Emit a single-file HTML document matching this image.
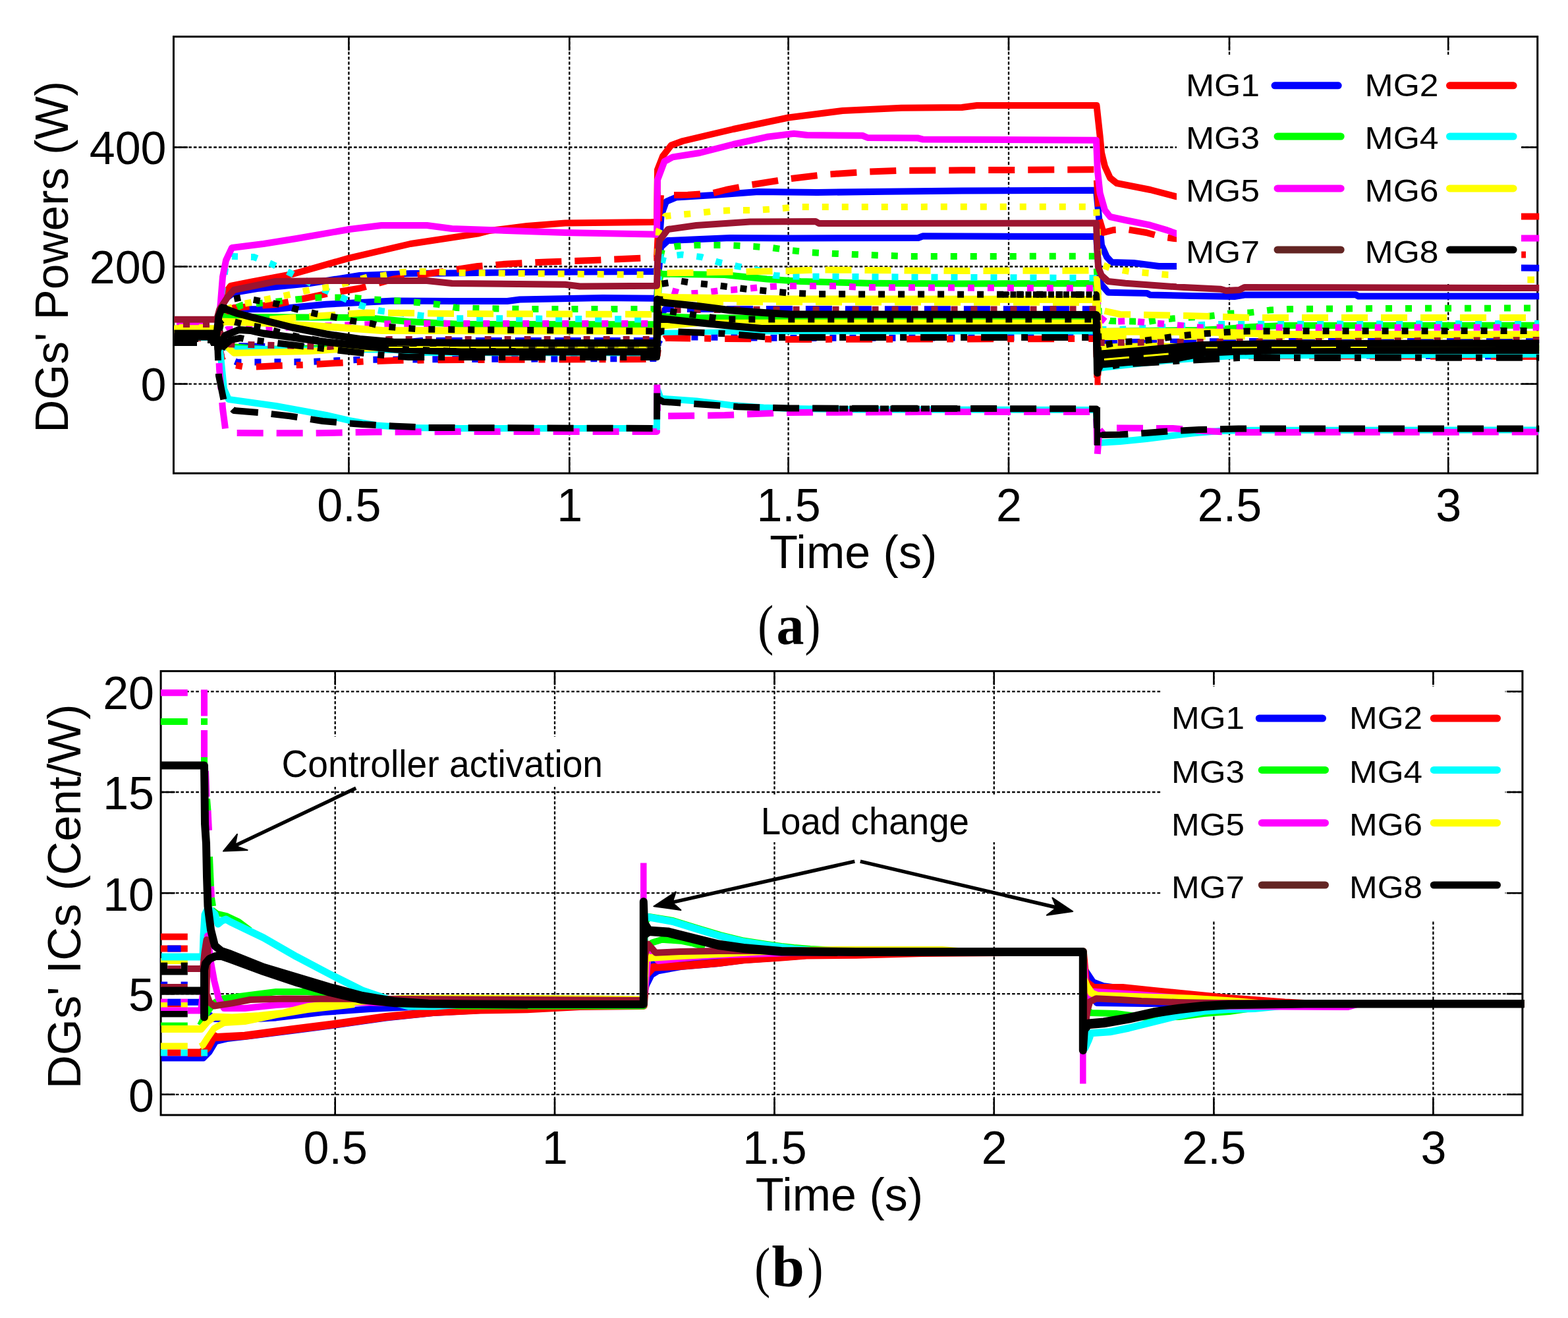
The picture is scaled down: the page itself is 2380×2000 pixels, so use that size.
<!DOCTYPE html>
<html lang="en"><head><meta charset="utf-8"><title>DGs' Powers and ICs</title>
<style>html,body{margin:0;padding:0;background:#fff}svg{display:block}</style></head><body>
<svg width="2380" height="2000" viewBox="0 0 2380 2000">
<rect width="2380" height="2000" fill="#fff"/>
<defs>
<clipPath id="ca"><rect x="264.3" y="55.6" width="2071.8999999999996" height="662.6"/></clipPath>
<clipPath id="cb"><rect x="244.9" y="1018.4" width="2068.7000000000003" height="673.6"/></clipPath>
</defs>
<g id="plot-a">
<g stroke="#000" stroke-width="2.3" stroke-dasharray="4.6 3" fill="none">
<line x1="529.4" y1="55.6" x2="529.4" y2="718.2"/>
<line x1="864.3" y1="55.6" x2="864.3" y2="718.2"/>
<line x1="1196.6" y1="55.6" x2="1196.6" y2="718.2"/>
<line x1="1531.0" y1="55.6" x2="1531.0" y2="718.2"/>
<line x1="1866.0" y1="55.6" x2="1866.0" y2="718.2"/>
<line x1="2198.2" y1="55.6" x2="2198.2" y2="718.2"/>
<line x1="263.5" y1="223.5" x2="2333.7" y2="223.5"/>
<line x1="263.5" y1="404.5" x2="2333.7" y2="404.5"/>
<line x1="263.5" y1="582.6" x2="2333.7" y2="582.6"/>
</g>
<g stroke="#000" stroke-width="2.6" fill="none">
<line x1="529.4" y1="55.6" x2="529.4" y2="76.6"/>
<line x1="529.4" y1="718.2" x2="529.4" y2="693.2"/>
<line x1="864.3" y1="55.6" x2="864.3" y2="76.6"/>
<line x1="864.3" y1="718.2" x2="864.3" y2="693.2"/>
<line x1="1196.6" y1="55.6" x2="1196.6" y2="76.6"/>
<line x1="1196.6" y1="718.2" x2="1196.6" y2="693.2"/>
<line x1="1531.0" y1="55.6" x2="1531.0" y2="76.6"/>
<line x1="1531.0" y1="718.2" x2="1531.0" y2="693.2"/>
<line x1="1866.0" y1="55.6" x2="1866.0" y2="76.6"/>
<line x1="1866.0" y1="718.2" x2="1866.0" y2="693.2"/>
<line x1="2198.2" y1="55.6" x2="2198.2" y2="76.6"/>
<line x1="2198.2" y1="718.2" x2="2198.2" y2="693.2"/>
<line x1="263.5" y1="223.5" x2="285.0" y2="223.5"/>
<line x1="2333.7" y1="223.5" x2="2309.7" y2="223.5"/>
<line x1="263.5" y1="404.5" x2="285.0" y2="404.5"/>
<line x1="2333.7" y1="404.5" x2="2309.7" y2="404.5"/>
<line x1="263.5" y1="582.6" x2="285.0" y2="582.6"/>
<line x1="2333.7" y1="582.6" x2="2309.7" y2="582.6"/>
</g>
<rect x="263.5" y="55.6" width="2070.2" height="662.6" fill="none" stroke="#000" stroke-width="3"/>

<g fill="none" stroke-linejoin="round" clip-path="url(#ca)">
<polyline points="264.0,510.0 329.0,510.0 333.0,480.0 340.0,455.0 355.0,444.0 390.0,438.0 470.0,430.0 546.0,418.0 623.0,415.0 686.0,414.5 800.0,413.0 989.0,412.0 997.0,412.0 1000.0,380.0 1003.6,326.5 1011.0,306.0 1026.0,299.6 1087.5,295.8 1151.0,291.0 1240.6,292.0 1342.6,290.7 1460.0,289.4 1664.0,288.7 1667.0,320.0 1672.0,372.0 1680.0,390.0 1687.4,398.0 1720.6,399.0 1759.0,404.0 2309.0,406.5 2338.0,406.8" stroke="#0000ff" stroke-width="10"/>
<polyline points="264.0,512.0 329.0,512.0 335.0,480.0 347.0,469.4 418.6,469.0 495.0,461.7 597.0,456.6 686.0,457.0 770.0,457.0 789.0,454.5 915.0,452.0 997.0,452.8 999.0,420.0 1003.0,375.0 1013.8,365.0 1108.0,361.0 1200.0,361.5 1393.7,361.0 1401.0,358.3 1664.0,359.0 1667.0,400.0 1671.0,431.0 1682.0,443.8 1741.0,445.0 1746.0,447.6 1810.0,449.0 1873.7,450.0 1889.0,447.6 2058.0,447.3 2062.0,449.6 2338.0,449.6" stroke="#0000ff" stroke-width="10"/>
<polyline points="264.0,514.0 330.0,514.0 336.0,540.0 360.0,549.7 470.0,549.0 540.0,546.0 700.0,545.0 997.0,544.0 999.0,520.0 1005.0,511.0 1200.0,513.0 1664.0,512.0 1667.0,540.0 1700.0,537.0 1800.0,538.0 2338.0,541.0" stroke="#0000ff" stroke-width="10" stroke-dasharray="10 20" stroke-dashoffset="5"/>
<polyline points="264.0,508.0 330.0,508.0 340.0,525.0 500.0,527.0 600.0,521.0 640.0,517.0 997.0,517.0 1000.0,480.0 1010.0,469.0 1664.0,469.3 1668.0,520.0 1700.0,519.0 2338.0,516.0" stroke="#0000ff" stroke-width="10" stroke-dasharray="40 20" stroke-dashoffset="12"/>
<polyline points="264.0,505.0 329.0,505.0 334.0,470.0 342.0,445.0 350.0,434.0 380.0,428.0 444.0,416.0 530.0,391.6 623.0,370.0 725.0,354.6 743.0,350.0 800.0,343.0 858.0,338.5 989.0,337.0 997.0,336.7 998.0,257.5 1006.0,237.0 1018.7,220.5 1036.5,214.0 1113.0,196.0 1196.7,178.5 1279.0,168.0 1368.0,163.7 1460.0,163.0 1483.0,160.0 1664.5,160.0 1669.6,206.5 1672.0,232.0 1677.0,252.4 1685.0,270.0 1695.0,278.0 1720.6,283.0 1746.0,288.0 1785.7,298.4 2000.0,320.0 2309.0,328.5 2338.0,328.5" stroke="#ff0000" stroke-width="10"/>
<polyline points="264.0,507.0 329.0,507.0 335.0,480.0 355.0,467.0 419.0,462.0 495.0,446.0 546.0,437.5 597.0,423.5 699.0,408.0 725.0,404.0 770.0,400.5 830.0,397.4 900.0,395.0 975.0,391.6 997.0,391.0 1000.0,330.0 1003.0,296.0 1044.0,295.8 1082.0,293.0 1102.0,288.0 1140.0,280.5 1196.0,271.6 1251.0,265.0 1311.0,261.0 1364.0,258.8 1460.0,258.3 1664.0,257.3 1668.0,330.0 1674.7,353.0 1690.0,349.0 1710.0,348.0 1740.0,353.0 1764.0,359.6 1783.0,362.0 2000.0,378.0 2300.0,386.6" stroke="#ff0000" stroke-width="10" stroke-dasharray="40 20" stroke-dashoffset="20"/>
<polyline points="2309.2,386.6 2316.0,386.6" stroke="#ff0000" stroke-width="10"/>
<polyline points="264.0,513.0 330.0,513.0 337.0,545.0 342.0,551.0 374.0,557.4 420.0,555.0 464.5,553.6 510.0,551.0 553.8,548.5 600.0,547.0 700.0,546.0 997.0,545.0 1000.0,520.0 1010.0,513.0 1200.0,515.0 1664.0,514.0 1665.5,582.0 1667.0,560.0 1680.0,545.0 1800.0,540.0 2338.0,541.0" stroke="#ff0000" stroke-width="10" stroke-dasharray="40 21 10 21" stroke-dashoffset="30"/>
<polyline points="264.0,509.0 330.0,509.0 338.0,485.0 350.0,481.0 556.0,482.0 620.0,488.0 700.0,492.0 997.0,492.3 1000.0,430.0 1003.0,415.7 1100.0,417.0 1164.0,423.4 1215.0,427.0 1317.0,429.7 1460.0,430.5 1664.0,430.0 1668.0,503.0 1820.0,501.0 1860.0,499.0 1900.0,496.0 1950.0,494.0 2338.0,493.7" stroke="#00ff00" stroke-width="10"/>
<polyline points="264.0,506.0 330.0,506.0 340.0,475.0 367.5,463.0 454.0,454.0 485.0,451.5 533.0,451.5 559.0,454.0 605.0,456.6 634.0,459.0 663.5,461.7 693.0,467.0 722.0,468.0 800.0,469.0 997.0,468.9 1000.0,400.0 1005.0,378.0 1026.5,373.7 1057.0,372.0 1087.8,372.0 1113.0,372.4 1143.9,374.0 1172.0,376.0 1200.0,380.0 1230.0,383.0 1270.0,385.0 1320.0,387.0 1380.0,389.0 1664.0,388.8 1668.0,480.0 1685.0,487.0 1743.0,488.0 1766.0,484.6 1797.0,482.0 1828.0,480.8 1866.0,475.7 1897.0,474.4 1927.0,470.6 1956.0,469.0 2100.0,468.0 2338.0,467.5" stroke="#00ff00" stroke-width="10" stroke-dasharray="10 20"/>
<polyline points="264.0,511.0 330.0,511.0 340.0,525.0 400.0,530.0 500.0,528.0 600.0,525.0 997.0,525.0 1000.0,480.0 1060.0,482.0 1200.0,483.3 1664.0,483.3 1668.0,530.0 2338.0,528.0" stroke="#00ff00" stroke-width="10"/>
<polyline points="264.0,512.0 330.0,512.0 335.0,540.0 340.0,590.0 347.0,606.0 418.6,616.0 495.0,630.0 529.5,637.8 571.6,645.4 622.6,649.0 700.0,650.0 997.0,650.0 997.5,590.0 1003.0,604.6 1057.0,608.4 1108.0,614.8 1159.0,618.6 1200.0,620.0 1300.0,621.5 1664.0,622.0 1665.5,668.0 1668.0,672.0 1675.0,671.5 1700.0,670.0 1740.0,666.0 1780.0,661.0 1810.0,657.5 1850.0,654.0 1900.0,652.8 2338.0,652.4" stroke="#00ffff" stroke-width="10"/>
<polyline points="264.0,510.0 330.0,510.0 336.0,450.0 343.0,400.0 352.0,389.0 385.0,390.0 411.0,400.0 436.0,412.0 487.0,437.5 514.0,449.0 538.5,460.5 566.5,469.4 579.0,472.0 640.0,479.0 689.0,483.4 720.0,483.0 997.0,484.7 1000.0,420.0 1007.0,390.0 1035.0,386.4 1064.6,390.0 1091.0,398.0 1119.0,404.0 1147.5,409.0 1175.6,418.0 1200.0,419.5 1664.0,422.0 1668.0,500.0 1700.0,500.0 1843.0,492.0 2338.0,491.0" stroke="#00ffff" stroke-width="10" stroke-dasharray="10 20" stroke-dashoffset="20"/>
<polyline points="264.0,513.0 330.0,513.0 340.0,528.0 600.0,532.0 640.0,536.0 997.0,536.5 1000.0,505.0 1100.0,503.5 1664.0,503.5 1668.0,560.0 1677.0,558.6 1771.6,548.0 1873.7,540.7 2338.0,538.5" stroke="#00ffff" stroke-width="8"/>
<polyline points="264.0,507.0 329.0,507.0 334.0,470.0 338.0,420.0 343.0,395.0 352.0,376.0 400.0,370.0 450.0,362.0 530.0,348.0 579.0,342.0 648.0,342.0 686.0,347.0 858.0,353.0 989.0,355.6 997.0,356.0 998.0,273.0 1008.5,245.0 1021.0,238.4 1062.0,232.0 1113.0,219.0 1164.0,207.8 1205.0,202.7 1225.0,205.0 1309.5,205.8 1317.0,209.0 1393.7,209.6 1401.0,211.6 1664.0,212.7 1665.8,257.5 1669.6,293.0 1677.0,318.8 1685.0,329.0 1708.0,334.0 1746.0,341.7 1771.6,349.4 1785.7,354.5 2000.0,358.0 2309.0,361.6 2338.0,361.6" stroke="#ff00ff" stroke-width="10"/>
<polyline points="264.0,493.0 330.0,493.0 333.0,560.0 338.0,620.0 342.0,650.5 350.0,657.0 470.0,657.4 570.0,655.5 700.0,655.0 997.0,655.0 997.2,578.0 998.0,625.0 1005.0,631.4 1100.0,630.0 1160.0,627.5 1200.0,626.0 1400.0,625.0 1664.0,625.0 1665.5,692.0 1668.0,660.0 1680.0,649.5 1780.0,650.0 1830.0,654.0 1870.0,656.0 2338.0,655.5" stroke="#ff00ff" stroke-width="10" stroke-dasharray="40 20" stroke-dashoffset="56"/>
<polyline points="264.0,509.0 330.0,509.0 345.0,500.0 450.0,496.0 600.0,491.0 997.0,491.0 1000.0,450.0 1011.0,438.7 1036.5,445.8 1066.0,444.3 1095.0,440.7 1125.0,439.0 1155.0,436.0 1185.0,434.0 1270.0,434.0 1310.0,436.0 1664.0,437.4 1668.0,480.0 1678.5,488.4 1714.0,487.0 1743.6,489.7 1773.0,492.0 1802.0,495.0 1822.6,497.0 2338.0,496.8" stroke="#ff00ff" stroke-width="10" stroke-dasharray="10 20" stroke-dashoffset="8"/>
<polyline points="264.0,498.7 330.0,498.7 338.0,488.0 400.0,490.0 500.0,496.0 580.0,501.5 997.0,502.5 1000.0,450.0 1019.0,451.5 1200.0,454.0 1664.0,454.5 1668.0,500.0 1672.0,503.0 1800.0,503.5 1860.0,504.5 1900.0,506.0 1950.0,507.5 2338.0,507.7" stroke="#ffff00" stroke-width="11"/>
<polyline points="264.0,500.0 330.0,500.0 338.0,520.0 355.0,535.7 470.0,533.0 508.0,530.6 600.0,527.0 997.0,526.0 1000.0,495.0 1062.0,490.0 1200.0,489.7 1664.0,489.7 1668.0,527.0 1700.0,526.0 1760.0,525.0 1800.0,526.5 2338.0,527.0" stroke="#ffff00" stroke-width="10"/>
<polyline points="264.0,497.0 330.0,497.0 340.0,470.0 365.0,462.0 418.6,451.5 449.0,445.0 475.0,439.0 505.0,435.0 561.0,419.6 582.0,418.0 610.0,413.0 640.5,412.0 700.0,414.0 997.0,417.0 1000.0,350.0 1010.0,328.0 1029.0,326.0 1058.4,323.5 1087.7,320.0 1117.0,319.0 1147.7,319.0 1177.0,317.0 1210.0,314.0 1664.0,313.7 1668.0,400.0 1685.0,406.8 1714.0,412.0 1743.6,414.4 1773.0,417.0 2000.0,422.0 2300.0,424.0" stroke="#ffff00" stroke-width="10" stroke-dasharray="10 20" stroke-dashoffset="22"/>
<polyline points="2318.4,424.5 2329.0,424.5" stroke="#ffff00" stroke-width="10"/>
<polyline points="264.0,501.0 330.0,501.0 340.0,490.0 400.0,485.0 556.0,474.5 700.0,476.0 997.0,477.0 1000.0,420.0 1005.0,414.5 1200.0,411.0 1243.0,409.5 1460.0,411.0 1664.0,410.5 1668.0,470.0 1700.0,477.0 1800.0,479.0 1900.0,482.0 2338.0,482.0" stroke="#ffff00" stroke-width="10" stroke-dasharray="40 20" stroke-dashoffset="29.5"/>
<polyline points="1003.0,459.0 1664.0,460.0 1668.0,512.0 2338.0,510.0" stroke="#ffff00" stroke-width="8" stroke-dasharray="40 20" stroke-dashoffset="5"/>
<polyline points="1666.0,520.0 1666.0,584.3" stroke="#ff0000" stroke-width="9"/>
<polyline points="264.0,484.7 329.0,484.7 333.0,470.0 345.0,451.5 355.0,440.0 418.6,427.0 500.0,426.0 648.0,426.0 686.0,430.0 858.0,431.7 880.0,434.5 997.0,433.7 998.0,400.0 1001.0,365.0 1013.8,348.0 1057.0,342.0 1138.6,336.6 1238.0,336.0 1243.0,339.0 1664.0,338.5 1665.5,380.0 1667.0,405.5 1672.0,418.0 1682.0,427.0 1708.0,429.7 1759.0,433.6 1797.0,436.0 1853.0,438.7 1861.0,441.0 1881.0,440.0 1889.0,436.0 2338.0,437.0" stroke="#9b1430" stroke-width="10"/>
<polyline points="264.0,492.0 330.0,492.0 340.0,522.0 500.0,526.0 560.0,519.0 590.0,515.0 997.0,515.0 1000.0,470.0 1664.0,469.3 1668.0,520.0 2338.0,516.0" stroke="#9b1430" stroke-width="10" stroke-dasharray="10 20" stroke-dashoffset="16"/>
<polyline points="264.0,506.0 329.0,506.0 332.0,480.0 337.0,467.0 360.0,475.5 400.0,486.0 444.0,497.0 495.0,507.0 546.0,514.5 597.0,519.0 700.0,520.5 997.0,520.5 997.5,454.0 1006.0,459.0 1057.0,464.3 1108.0,470.7 1159.0,474.5 1200.0,477.0 1664.0,477.4 1665.5,566.0 1668.0,540.0 1671.0,537.0 1726.0,532.5 1783.0,527.0 1826.0,523.5 1883.0,522.5 1940.0,521.5 2338.0,521.0" stroke="#000000" stroke-width="11"/>
<polyline points="264.0,511.0 329.0,511.0 331.0,530.0 335.0,520.0 342.0,509.0 362.4,500.5 380.0,501.5 400.0,506.0 495.0,519.0 600.0,530.0 700.0,534.0 997.0,534.0 998.0,483.0 1062.0,489.7 1113.0,494.8 1156.0,498.6 1664.0,497.4 1666.0,562.0 1671.0,553.0 1726.0,548.5 1783.0,544.5 1826.0,535.5 1883.0,533.0 1940.0,532.0 2338.0,531.5" stroke="#000000" stroke-width="11"/>
<polyline points="264.0,514.0 330.0,514.0 332.0,490.0 340.0,484.0 371.0,492.4 399.0,497.2 428.0,505.3 455.6,511.8 484.8,516.7 520.0,522.0 560.0,526.0 600.0,528.0 997.0,528.0 1000.0,470.0 1040.0,476.0 1100.0,484.6 1664.0,484.6 1668.0,545.0 1700.0,546.0 1800.0,541.0 1860.0,534.0 1940.0,532.0 2338.0,532.0" stroke="#000000" stroke-width="10" stroke-dasharray="10 20" stroke-dashoffset="3"/>
<polyline points="264.0,516.0 330.0,516.0 341.0,456.6 366.0,451.5 394.0,456.6 423.7,461.7 450.5,469.4 478.5,475.8 506.6,481.0 534.6,487.0 564.0,491.0 579.0,495.0 608.6,497.5 639.0,499.5 668.6,500.0 997.0,502.5 1003.0,431.0 1032.7,426.4 1049.0,429.0 1078.0,431.8 1106.7,435.4 1136.0,439.0 1165.4,441.7 1197.0,444.5 1240.0,446.3 1664.0,447.0 1668.0,525.0 1700.0,519.0 1731.0,517.7 1759.0,514.0 1787.0,510.0 1817.5,507.0 1848.0,505.0 1877.5,503.0 1908.0,502.4 2338.0,502.0" stroke="#000000" stroke-width="10" stroke-dasharray="10 20" stroke-dashoffset="9"/>
<polyline points="1667.0,550.0 1671.0,545.0 1726.0,540.5 1783.0,536.0 1826.0,529.5 1883.0,528.0" stroke="#000000" stroke-width="9"/>
<polyline points="264.0,520.0 304.0,520.0 330.0,520.0 334.0,535.0 338.0,527.0 350.0,516.0 365.0,513.0 373.0,515.0 400.0,518.0 440.0,523.0 500.0,530.0 570.0,538.0 620.0,542.0 997.0,542.0 1000.0,505.0 1005.0,502.4 1100.0,506.3 1170.0,512.0 1664.0,512.0 1667.0,560.0 1700.0,553.0 1800.0,547.0 1880.0,543.0 2338.0,542.7" stroke="#000000" stroke-width="10" stroke-dasharray="40 21 10 21" stroke-dashoffset="5"/>
<polyline points="264.0,518.0 330.0,518.0 332.0,570.0 339.5,607.0 355.0,623.0 393.0,626.0 440.0,631.4 490.0,639.0 550.0,644.0 600.0,646.7 650.0,649.0 997.0,650.0 997.3,589.0 998.0,605.0 1007.0,609.7 1064.0,613.5 1120.0,617.3 1200.0,619.5 1664.0,620.4 1665.5,662.0 1668.0,660.0 1700.0,659.5 1740.0,657.0 1780.0,654.0 1820.0,652.0 1880.0,650.4 2338.0,650.4" stroke="#000000" stroke-width="10" stroke-dasharray="40 20" stroke-dashoffset="5"/>
<polyline points="1274.0,620.0 1460.0,620.0" stroke="#000000" stroke-width="9" stroke-dasharray="13 2.5"/>
<polyline points="1522.0,447.0 1664.0,447.0" stroke="#000000" stroke-width="9.5" stroke-dasharray="9 2.5"/>
<polyline points="1665.5,618.0 1665.5,676.0" stroke="#000000" stroke-width="9"/>
<polyline points="1665.5,660.0 1688.0,660.0" stroke="#000000" stroke-width="8"/>
</g>
<g fill="none" stroke="#ffff00" stroke-width="2" stroke-dasharray="38 22" clip-path="url(#ca)">
<line x1="590" y1="527" x2="794" y2="527" stroke-dasharray="21 10"/>
<line x1="794" y1="527" x2="992" y2="527" stroke="#4d4d00" stroke-width="1.2" stroke-dasharray="21 10"/>
<line x1="1676" y1="545.5" x2="1780" y2="536.5" stroke-width="3"/>
<line x1="1830" y1="527.5" x2="2075" y2="527" stroke-dashoffset="20"/>
</g>
<rect x="1786" y="83" width="523" height="348" fill="#fff"/>
<g font-family="'Liberation Sans', 'DejaVu Sans', sans-serif" font-size="48" fill="#000">
<text x="1800.0" y="145.9" textLength="112" lengthAdjust="spacingAndGlyphs">MG1</text>
<text x="2071.6" y="145.9" textLength="112" lengthAdjust="spacingAndGlyphs">MG2</text>
<text x="1800.0" y="226.0" textLength="112" lengthAdjust="spacingAndGlyphs">MG3</text>
<text x="2071.6" y="226.0" textLength="112" lengthAdjust="spacingAndGlyphs">MG4</text>
<text x="1800.0" y="305.7" textLength="112" lengthAdjust="spacingAndGlyphs">MG5</text>
<text x="2071.6" y="305.7" textLength="112" lengthAdjust="spacingAndGlyphs">MG6</text>
<text x="1800.0" y="398.9" textLength="112" lengthAdjust="spacingAndGlyphs">MG7</text>
<text x="2071.6" y="398.9" textLength="112" lengthAdjust="spacingAndGlyphs">MG8</text>
</g>
<g stroke-width="11" stroke-linecap="round" fill="none">
<line x1="1935.0" y1="129.8" x2="2031.2" y2="129.8" stroke="#0000ff"/>
<line x1="2200.5" y1="129.8" x2="2297.1" y2="129.8" stroke="#ff0000"/>
<line x1="1939.0" y1="207" x2="2035.2" y2="207" stroke="#00ff00"/>
<line x1="2200.5" y1="207" x2="2297.1" y2="207" stroke="#00ffff"/>
<line x1="1939.0" y1="285.9" x2="2035.2" y2="285.9" stroke="#ff00ff"/>
<line x1="2200.5" y1="285.9" x2="2297.1" y2="285.9" stroke="#ffff00"/>
<line x1="1939.0" y1="379" x2="2035.2" y2="379" stroke="#632523"/>
<line x1="2200.5" y1="379" x2="2297.1" y2="379" stroke="#000000"/>
</g>
</g>
<g id="plot-b">
<g stroke="#000" stroke-width="2.3" stroke-dasharray="4.6 3" fill="none">
<line x1="508.7" y1="1018.4" x2="508.7" y2="1692.0"/>
<line x1="842.0" y1="1018.4" x2="842.0" y2="1692.0"/>
<line x1="1175.5" y1="1018.4" x2="1175.5" y2="1692.0"/>
<line x1="1508.8" y1="1018.4" x2="1508.8" y2="1692.0"/>
<line x1="1842.4" y1="1018.4" x2="1842.4" y2="1692.0"/>
<line x1="2175.4" y1="1018.4" x2="2175.4" y2="1692.0"/>
<line x1="244.1" y1="1049.3" x2="2310.9" y2="1049.3"/>
<line x1="244.1" y1="1202.0" x2="2310.9" y2="1202.0"/>
<line x1="244.1" y1="1355.2" x2="2310.9" y2="1355.2"/>
<line x1="244.1" y1="1508.1" x2="2310.9" y2="1508.1"/>
<line x1="244.1" y1="1660.8" x2="2310.9" y2="1660.8"/>
</g>
<g stroke="#000" stroke-width="2.6" fill="none">
<line x1="508.7" y1="1018.4" x2="508.7" y2="1039.4"/>
<line x1="508.7" y1="1692.0" x2="508.7" y2="1667.0"/>
<line x1="842.0" y1="1018.4" x2="842.0" y2="1039.4"/>
<line x1="842.0" y1="1692.0" x2="842.0" y2="1667.0"/>
<line x1="1175.5" y1="1018.4" x2="1175.5" y2="1039.4"/>
<line x1="1175.5" y1="1692.0" x2="1175.5" y2="1667.0"/>
<line x1="1508.8" y1="1018.4" x2="1508.8" y2="1039.4"/>
<line x1="1508.8" y1="1692.0" x2="1508.8" y2="1667.0"/>
<line x1="1842.4" y1="1018.4" x2="1842.4" y2="1039.4"/>
<line x1="1842.4" y1="1692.0" x2="1842.4" y2="1667.0"/>
<line x1="2175.4" y1="1018.4" x2="2175.4" y2="1039.4"/>
<line x1="2175.4" y1="1692.0" x2="2175.4" y2="1667.0"/>
<line x1="244.1" y1="1049.3" x2="265.6" y2="1049.3"/>
<line x1="2310.9" y1="1049.3" x2="2286.9" y2="1049.3"/>
<line x1="244.1" y1="1202.0" x2="265.6" y2="1202.0"/>
<line x1="2310.9" y1="1202.0" x2="2286.9" y2="1202.0"/>
<line x1="244.1" y1="1355.2" x2="265.6" y2="1355.2"/>
<line x1="2310.9" y1="1355.2" x2="2286.9" y2="1355.2"/>
<line x1="244.1" y1="1508.1" x2="265.6" y2="1508.1"/>
<line x1="2310.9" y1="1508.1" x2="2286.9" y2="1508.1"/>
<line x1="244.1" y1="1660.8" x2="265.6" y2="1660.8"/>
<line x1="2310.9" y1="1660.8" x2="2286.9" y2="1660.8"/>
</g>
<rect x="244.1" y="1018.4" width="2066.8" height="673.6" fill="none" stroke="#000" stroke-width="3"/>
<g fill="none">
<line x1="244.1" y1="1051.3" x2="284.8" y2="1051.3" stroke="#ff00ff" stroke-width="10"/>
<line x1="244.1" y1="1095" x2="284.8" y2="1095" stroke="#00ff00" stroke-width="10"/>
<line x1="310" y1="1046.5" x2="310" y2="1086.5" stroke="#ff00ff" stroke-width="10"/>
<line x1="310" y1="1108" x2="310" y2="1149" stroke="#ff00ff" stroke-width="10"/>
<line x1="310" y1="1090" x2="310" y2="1100" stroke="#00ff00" stroke-width="10"/>
<line x1="310" y1="1149" x2="310" y2="1160" stroke="#00ff00" stroke-width="10"/>
<polyline points="313,1170 314.5,1209" stroke="#ff00ff" stroke-width="8"/>
<polyline points="315,1212 316.5,1230" stroke="#00ff00" stroke-width="8"/>
<polyline points="316.5,1230 318,1260" stroke="#ff00ff" stroke-width="8"/>
<polyline points="319,1300 321,1345" stroke="#00ff00" stroke-width="8"/>
<polyline points="321,1345 322,1362" stroke="#ff00ff" stroke-width="8"/>
<polyline points="322,1362 324,1375" stroke="#00ff00" stroke-width="8"/>
<line x1="244.1" y1="1421.5" x2="284.8" y2="1421.5" stroke="#ff0000" stroke-width="10"/>
<line x1="244.1" y1="1439.5" x2="284.8" y2="1439.5" stroke="#ff0000" stroke-width="10"/>
<line x1="254.2" y1="1439.5" x2="274.6" y2="1439.5" stroke="#0000ff" stroke-width="10"/>
<line x1="244.1" y1="1458.5" x2="284.8" y2="1458.5" stroke="#ffff00" stroke-width="9"/>
<line x1="305.2" y1="1458.5" x2="315.0" y2="1458.5" stroke="#ffff00" stroke-width="9"/>
<line x1="244.1" y1="1465.3" x2="254.2" y2="1465.3" stroke="#000000" stroke-width="9.5"/>
<line x1="274.6" y1="1465.3" x2="284.8" y2="1465.3" stroke="#000000" stroke-width="9.5"/>
<line x1="254.2" y1="1467.7" x2="274.6" y2="1467.7" stroke="#9b1430" stroke-width="5"/>
<line x1="244.1" y1="1474.8" x2="284.8" y2="1474.8" stroke="#000000" stroke-width="9.5"/>
<line x1="244.1" y1="1491.4" x2="254.2" y2="1491.4" stroke="#0000ff" stroke-width="3.5"/>
<line x1="274.6" y1="1491.4" x2="284.8" y2="1491.4" stroke="#0000ff" stroke-width="3.5"/>
<line x1="244.1" y1="1495.6" x2="284.8" y2="1495.6" stroke="#9b1430" stroke-width="5"/>
<line x1="244.1" y1="1518.4" x2="254.2" y2="1518.4" stroke="#ff00ff" stroke-width="5.5"/>
<line x1="254.2" y1="1518.4" x2="274.6" y2="1518.4" stroke="#0000ff" stroke-width="5.5"/>
<line x1="274.6" y1="1518.4" x2="284.8" y2="1518.4" stroke="#ff00ff" stroke-width="5.5"/>
<line x1="244.1" y1="1525.8" x2="254.2" y2="1525.8" stroke="#ffff00" stroke-width="9.5"/>
<line x1="274.6" y1="1525.8" x2="284.8" y2="1525.8" stroke="#ffff00" stroke-width="9.5"/>
<line x1="254.2" y1="1523.5" x2="274.6" y2="1523.5" stroke="#0000ff" stroke-width="5"/>
<line x1="254.2" y1="1527.2" x2="274.6" y2="1527.2" stroke="#ff0000" stroke-width="2.5"/>
<line x1="244.1" y1="1531.3" x2="284.8" y2="1531.3" stroke="#ff00ff" stroke-width="5.5"/>
<line x1="244.1" y1="1538.8" x2="284.8" y2="1538.8" stroke="#000000" stroke-width="9.5"/>
<line x1="244.1" y1="1554" x2="284.8" y2="1554" stroke="#00ff00" stroke-width="5"/>
<line x1="244.1" y1="1587.5" x2="284.8" y2="1587.5" stroke="#ffff00" stroke-width="10"/>
<line x1="244.1" y1="1597.6" x2="254.2" y2="1597.6" stroke="#00ffff" stroke-width="10"/>
<line x1="254.2" y1="1597.6" x2="274.6" y2="1597.6" stroke="#ff0000" stroke-width="10"/>
<line x1="274.6" y1="1597.6" x2="284.8" y2="1597.6" stroke="#00ffff" stroke-width="10"/>
<line x1="305.2" y1="1597.6" x2="315.0" y2="1597.6" stroke="#00ffff" stroke-width="10"/>
</g>
<g fill="none" stroke-linejoin="round" clip-path="url(#cb)">
<polyline points="244.1,1606.5 309.0,1606.5 318.4,1597.0 328.0,1581.0 345.0,1577.0 371.5,1574.0 443.0,1565.0 508.7,1556.5 586.0,1545.5 657.3,1538.0 728.8,1534.0 800.0,1531.0 900.0,1527.0 976.8,1525.0 978.0,1510.0 982.0,1495.3 989.6,1480.0 999.0,1474.4 1033.4,1468.0 1090.6,1463.0 1128.7,1458.0 1186.0,1454.0 1224.0,1451.0 1300.0,1448.0 1400.0,1445.0 1643.8,1444.0 1645.0,1460.0 1648.6,1472.4 1660.0,1489.6 1675.0,1495.3 1704.0,1499.0 1751.5,1504.0 1789.6,1508.0 1827.7,1512.0 1865.8,1516.0 1904.0,1519.0 1960.0,1522.5 2314.0,1523.0" stroke="#0000ff" stroke-width="8"/>
<polyline points="284.8,1520.8 305.0,1520.8 312.0,1535.0 325.0,1546.0 371.5,1547.0 419.0,1544.4 490.6,1536.0 562.0,1531.0 633.5,1527.7 700.0,1525.0 976.8,1524.0 980.0,1465.0 1000.0,1460.0 1090.0,1452.0 1200.0,1446.0 1643.8,1444.0 1646.0,1500.0 1665.0,1522.0 1740.0,1523.0 1800.0,1523.0 2314.0,1523.0" stroke="#0000ff" stroke-width="10"/>
<polyline points="284.8,1597.6 305.0,1597.6 315.0,1590.0 325.0,1572.0 328.6,1574.0 371.5,1571.8 443.0,1562.3 508.7,1554.0 586.0,1543.0 657.3,1536.0 728.8,1532.5 800.0,1531.3 880.0,1527.0 976.8,1526.0 980.0,1480.0 991.5,1467.7 1033.4,1465.8 1090.6,1461.0 1128.7,1456.3 1186.0,1452.5 1224.0,1449.6 1300.0,1448.7 1400.0,1446.0 1643.8,1444.0 1648.0,1490.0 1660.0,1499.0 1703.9,1499.0 1751.5,1503.9 1789.6,1507.7 1827.7,1511.5 1865.8,1515.3 1904.0,1518.0 1950.0,1521.5 1980.0,1523.0 2314.0,1523.0" stroke="#ff0000" stroke-width="12"/>
<polyline points="304.0,1556.0 308.0,1548.0 315.0,1535.0 325.0,1522.0 336.0,1515.6 379.7,1510.0 419.0,1505.0 466.7,1505.0 520.0,1510.0 600.0,1518.0 640.0,1524.0 700.0,1526.5 976.8,1526.5 979.0,1400.0 985.0,1391.0 1021.4,1397.0 1057.0,1408.0 1093.0,1418.8 1128.6,1427.5 1164.0,1433.0 1186.0,1436.0 1205.0,1438.0 1230.0,1440.0 1270.0,1442.0 1320.0,1444.0 1643.8,1444.0 1648.0,1530.0 1656.0,1537.0 1694.0,1538.0 1740.0,1544.0 1789.6,1543.0 1827.7,1538.0 1866.0,1535.0 1900.0,1530.0 1940.0,1525.0 1960.0,1523.0 2314.0,1523.0" stroke="#00ff00" stroke-width="10"/>
<polyline points="976.8,1524.0 982.0,1440.0 989.6,1430.5 1004.8,1425.8 1033.4,1427.7 1050.0,1431.0 1070.0,1437.0" stroke="#00ff00" stroke-width="10"/>
<polyline points="322.0,1380.0 330.0,1386.0 345.0,1389.5 362.0,1397.5 380.0,1411.0" stroke="#00ff00" stroke-width="8"/>
<polyline points="244.1,1452.0 308.0,1452.0 309.0,1420.0 311.0,1388.0 316.0,1378.0 326.0,1387.0 331.0,1402.0 337.0,1397.0 343.0,1395.0 350.0,1399.0 400.0,1423.0 450.0,1451.7 500.0,1478.0 550.0,1503.0 575.0,1511.5 590.0,1517.0 605.0,1523.0 620.0,1527.0 660.0,1527.0 700.0,1524.0 976.8,1524.0 978.0,1390.0 985.8,1392.0 1021.4,1398.5 1057.0,1409.6 1093.0,1420.4 1128.6,1429.0 1164.0,1434.5 1186.0,1437.5 1205.0,1440.0 1230.0,1442.0 1270.0,1444.0 1300.0,1444.5 1643.8,1444.0 1647.0,1590.0 1652.0,1579.0 1656.2,1567.7 1684.8,1565.8 1713.4,1560.0 1751.5,1550.5 1789.6,1541.0 1827.7,1534.3 1865.8,1531.5 1904.0,1530.5 1950.0,1526.0 1975.0,1523.5 2314.0,1523.0" stroke="#00ffff" stroke-width="11"/>
<polyline points="305.2,1597.6 315.0,1597.6" stroke="#00ffff" stroke-width="10"/>
<polyline points="284.8,1533.5 305.0,1533.5 312.0,1470.0 315.0,1420.0 320.0,1460.0 325.2,1488.4 332.0,1515.6 340.0,1530.0 371.5,1530.0 419.0,1525.0 490.6,1520.6 600.0,1522.0 976.8,1524.0 985.0,1440.0 999.0,1458.0 1052.4,1452.5 1090.6,1449.6 1200.0,1446.0 1643.8,1444.0 1650.0,1520.0 1660.0,1504.8 1732.5,1509.6 1800.0,1515.0 1850.0,1527.0 2046.0,1528.0 2060.0,1524.0 2314.0,1524.0" stroke="#ff00ff" stroke-width="10"/>
<polyline points="976.8,1450.0 976.8,1309.5" stroke="#ff00ff" stroke-width="9.5"/>
<polyline points="1643.8,1500.0 1643.8,1644.5" stroke="#ff00ff" stroke-width="9.5"/>
<polyline points="244.1,1561.6 305.0,1561.6 315.0,1550.0 325.0,1543.0 352.4,1544.0 393.3,1541.5 430.0,1537.4 466.7,1527.7 538.0,1520.0 610.0,1515.5 700.0,1515.0 900.0,1516.0 976.8,1517.0 980.0,1450.0 985.0,1453.4 1033.0,1450.6 1100.0,1447.0 1150.0,1444.0 1270.0,1441.5 1430.0,1441.5 1460.0,1444.0 1643.8,1444.0 1644.8,1485.0 1650.0,1497.0 1657.0,1507.0 1665.8,1510.5 1751.5,1513.4 1808.7,1515.3 1870.0,1519.0 1910.0,1522.5 2314.0,1523.0" stroke="#ffff00" stroke-width="11"/>
<polyline points="304.0,1588.0 308.0,1586.0 315.0,1575.0 325.0,1560.5 340.0,1552.0 371.5,1550.0 419.0,1540.0 466.7,1532.0 538.0,1524.0" stroke="#ffff00" stroke-width="10"/>
<polyline points="305.2,1458.0 314.5,1458.0" stroke="#ffff00" stroke-width="7"/>
<polyline points="284.8,1470.0 308.0,1470.0 310.5,1445.0 313.5,1426.0 315.5,1440.0 314.0,1480.0 313.5,1508.0 318.0,1521.0 325.0,1526.5 352.4,1522.4 379.7,1517.0 430.0,1515.6 514.0,1515.8 600.0,1516.0 700.0,1516.5 900.0,1517.5 976.8,1518.0 979.0,1450.0 983.8,1432.5 995.3,1445.8 1033.4,1443.9 1090.6,1443.0 1643.8,1444.0 1647.0,1560.0 1650.5,1533.4 1654.3,1520.0 1663.8,1515.3 1700.0,1517.0 1732.5,1519.0 1789.6,1521.0 1850.0,1522.0 2314.0,1523.0" stroke="#9b1430" stroke-width="10"/>
<polyline points="244.1,1161.5 310.0,1161.5 310.5,1200.0 311.0,1250.0 313.0,1280.0 314.0,1330.0 315.5,1375.0 320.0,1411.0 326.0,1435.0 335.7,1443.0 350.0,1447.7 400.0,1467.7 450.0,1482.7 500.0,1497.7 550.0,1511.0 600.0,1519.3 650.0,1522.7 700.0,1523.5 800.0,1524.0 976.8,1524.0 976.8,1368.0 978.0,1400.0 985.0,1411.5 1014.0,1413.4 1052.4,1423.0 1090.6,1432.5 1128.7,1438.0 1186.0,1443.0 1300.0,1444.0 1643.8,1444.0 1643.8,1594.0 1646.0,1560.0 1652.4,1552.5 1675.3,1550.5 1713.4,1543.9 1751.5,1535.3 1789.6,1529.6 1827.7,1525.8 1865.8,1523.9 1980.0,1523.0 2314.0,1523.0" stroke="#000000" stroke-width="12" stroke-linecap="round"/>
<polyline points="244.1,1503.4 310.0,1503.4 310.0,1543.5 310.0,1472.0 312.0,1462.0 318.0,1455.0 327.0,1451.0 337.0,1451.0 350.0,1455.7 400.0,1474.0 450.0,1490.7 500.0,1505.7 550.0,1517.3 600.0,1522.3 650.0,1523.5 800.0,1524.5" stroke="#000000" stroke-width="12" stroke-linecap="round"/>
<polyline points="976.8,1420.0 985.0,1414.0 1014.0,1416.0 1052.4,1425.5 1090.6,1435.0 1128.7,1440.0 1186.0,1444.5 1300.0,1445.0 1643.8,1445.0" stroke="#000000" stroke-width="12"/>
<polyline points="1646.0,1562.0 1652.4,1555.0 1675.3,1553.0 1713.4,1546.4 1751.5,1537.8 1789.6,1532.0 1827.7,1527.5 1865.8,1525.0 1980.0,1523.3 2314.0,1523.2" stroke="#000000" stroke-width="12.5"/>
</g>
<rect x="420" y="1118" width="505" height="76" fill="#fff"/>
<rect x="1150" y="1206" width="372" height="72" fill="#fff"/>
<g font-family="'Liberation Sans', 'DejaVu Sans', sans-serif" fill="#000">
<text transform="translate(427.4,1179.2) scale(1,1.05)" font-size="55.2">Controller activation</text>
<text transform="translate(1154.7,1266.4) scale(1,1.05)" font-size="54.7">Load change</text>
</g>
<g stroke="#000" stroke-width="5.4" fill="none">
<line x1="540.3" y1="1196" x2="352" y2="1285.5"/>
<line x1="1297.3" y1="1307.2" x2="1008" y2="1372"/>
<line x1="1305.8" y1="1307.2" x2="1612" y2="1379"/>
</g>
<g fill="#000" stroke="#000" stroke-width="2" stroke-linejoin="round">
<polygon points="339,1291.6 360,1265.9 356.5,1283.5 375.6,1290"/>
<polygon points="992.4,1375.3 1025.8,1353.4 1020.5,1369.5 1033.4,1381"/>
<polygon points="1628.3,1383 1597.4,1362.4 1603.5,1377.5 1588.8,1388.7"/>
</g>
<rect x="1763" y="1042" width="521.5999999999999" height="355.4000000000001" fill="#fff"/>
<g font-family="'Liberation Sans', 'DejaVu Sans', sans-serif" font-size="48" fill="#000">
<text x="1778.0" y="1105.9" textLength="111" lengthAdjust="spacingAndGlyphs">MG1</text>
<text x="2048.1" y="1105.9" textLength="111" lengthAdjust="spacingAndGlyphs">MG2</text>
<text x="1778.0" y="1188.0" textLength="111" lengthAdjust="spacingAndGlyphs">MG3</text>
<text x="2048.1" y="1188.0" textLength="111" lengthAdjust="spacingAndGlyphs">MG4</text>
<text x="1778.0" y="1268.0" textLength="111" lengthAdjust="spacingAndGlyphs">MG5</text>
<text x="2048.1" y="1268.0" textLength="111" lengthAdjust="spacingAndGlyphs">MG6</text>
<text x="1778.0" y="1362.9" textLength="111" lengthAdjust="spacingAndGlyphs">MG7</text>
<text x="2048.1" y="1362.9" textLength="111" lengthAdjust="spacingAndGlyphs">MG8</text>
</g>
<g stroke-width="11" stroke-linecap="round" fill="none">
<line x1="1911.3" y1="1090" x2="2007.5" y2="1090" stroke="#0000ff"/>
<line x1="2176.3" y1="1090" x2="2272.5" y2="1090" stroke="#ff0000"/>
<line x1="1915.3" y1="1168.4" x2="2011.5" y2="1168.4" stroke="#00ff00"/>
<line x1="2176.3" y1="1168.4" x2="2272.5" y2="1168.4" stroke="#00ffff"/>
<line x1="1915.3" y1="1248.7" x2="2011.5" y2="1248.7" stroke="#ff00ff"/>
<line x1="2176.3" y1="1248.7" x2="2272.5" y2="1248.7" stroke="#ffff00"/>
<line x1="1915.3" y1="1343" x2="2011.5" y2="1343" stroke="#632523"/>
<line x1="2176.3" y1="1343" x2="2272.5" y2="1343" stroke="#000000"/>
</g>
</g>
<g font-family="'Liberation Sans', 'DejaVu Sans', sans-serif" font-size="70" fill="#000">
<text x="252.5" y="248.8" text-anchor="end">400</text>
<text x="252.5" y="429.8" text-anchor="end">200</text>
<text x="252.5" y="607.9" text-anchor="end">0</text>
<text x="529.9" y="791" text-anchor="middle">0.5</text>
<text x="864.8" y="791" text-anchor="middle">1</text>
<text x="1197.1" y="791" text-anchor="middle">1.5</text>
<text x="1531.5" y="791" text-anchor="middle">2</text>
<text x="1866.5" y="791" text-anchor="middle">2.5</text>
<text x="2198.7" y="791" text-anchor="middle">3</text>
<text x="1168.2" y="862.2">Time (s)</text>
<text transform="translate(102.7,656.8) rotate(-90)" x="0" y="0" textLength="533.8" lengthAdjust="spacingAndGlyphs">DGs' Powers (W)</text>
<text x="234" y="1075.6" text-anchor="end">20</text>
<text x="234" y="1228.3" text-anchor="end">15</text>
<text x="234" y="1381.5" text-anchor="end">10</text>
<text x="234" y="1534.4" text-anchor="end">5</text>
<text x="234" y="1687.1" text-anchor="end">0</text>
<text x="509.2" y="1766.4" text-anchor="middle">0.5</text>
<text x="842.5" y="1766.4" text-anchor="middle">1</text>
<text x="1176.0" y="1766.4" text-anchor="middle">1.5</text>
<text x="1509.3" y="1766.4" text-anchor="middle">2</text>
<text x="1842.9" y="1766.4" text-anchor="middle">2.5</text>
<text x="2175.9" y="1766.4" text-anchor="middle">3</text>
<text x="1147" y="1837.2">Time (s)</text>
<text transform="translate(122.4,1652.3) rotate(-90)" x="0" y="0" textLength="584" lengthAdjust="spacingAndGlyphs">DGs' ICs (Cent/W)</text>
</g>
<g font-family="'Liberation Serif', 'DejaVu Serif', serif" fill="#000">
<text transform="translate(1150.2,976.5) scale(1,1.165)" font-size="72">(</text>
<text x="1178.5" y="976.5" font-size="84" font-weight="bold">a</text>
<text transform="translate(1221.6,976.5) scale(1,1.165)" font-size="72">)</text>
<text transform="translate(1145.2,1952.4) scale(1,1.165)" font-size="72">(</text>
<text x="1171.5" y="1952.4" font-size="89" font-weight="bold">b</text>
<text transform="translate(1225.6,1952.4) scale(1,1.165)" font-size="72">)</text>
</g>
</svg></body></html>
